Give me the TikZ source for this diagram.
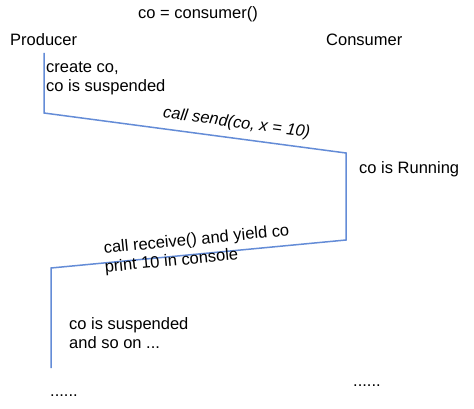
\documentclass[tikz,border=0pt]{standalone}
\usepackage{fontspec}
\setmainfont{Liberation Sans}
\definecolor{lineblue}{RGB}{100,140,215}
\tikzset{
  lbl/.style={inner sep=0pt, anchor=base west, font=\fontsize{16.5}{20}\selectfont},
  rlbl/.style={inner sep=0pt, anchor=base, font=\fontsize{16.5}{20}\selectfont},
  flow/.style={draw=lineblue, line width=1.5pt, line join=miter},
}
\begin{document}
\begin{tikzpicture}[x=1pt,y=-1pt]
\useasboundingbox[fill=white] (0,0) rectangle (474,409);
% titles
\node[rlbl] (title) at (198,18.3) {co = consumer()};
\node[lbl] (prod) at (10,46) {Producer};
\node[lbl] (cons) at (326,46) {Consumer};
% flow path corners
\coordinate (p0) at (44,53);
\coordinate (p1) at (44,113);
\coordinate (c0) at (346,153);
\coordinate (c1) at (346,240);
\coordinate (q0) at (51,268);
\coordinate (q1) at (51,368);
\draw[flow] (p0) -- (p1) -- (c0) -- (c1) -- (q0) -- (q1);
% labels
\node[lbl] (create) at (46,72.7) {create co,};
\node[lbl] (susp1) at (46,91.7) {co is suspended};
\node[rlbl, rotate=-7.5] (send) at (236,127.5) {\itshape call send(co, x = 10)};
\node[lbl] (run) at (359,173) {co is Running};
\node[rlbl, rotate=5.6] (recv) at (197,244.5) {call receive() and yield co};
\node[rlbl, rotate=5.6] (print) at (172,266) {print 10 in console};
\node[lbl] (susp2) at (69,329) {co is suspended};
\node[lbl] (soon) at (69,348) {and so on ...};
\node[lbl] (dotsl) at (50,396) {......};
\node[lbl] (dotsr) at (353,386.5) {......};
\end{tikzpicture}
\end{document}
